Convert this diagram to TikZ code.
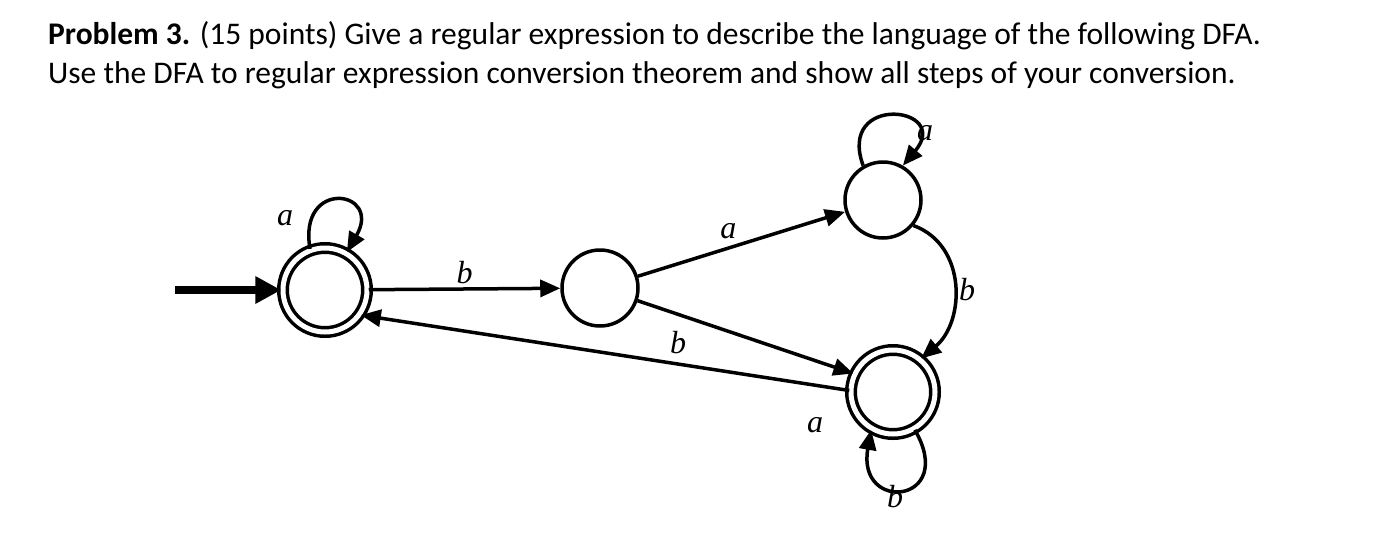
\documentclass[tikz,border=0pt]{standalone}
\usepackage{fontspec}
\setmainfont{Carlito}
\newfontfamily\lblfont{Liberation Serif}
\usetikzlibrary{arrows.meta}
\begin{document}
\begin{tikzpicture}[x=1pt,y=-1pt,
  st/.style={circle,draw,line width=3.5pt,minimum size=76pt,inner sep=0pt},
  acc/.style={st,double,double distance=5pt,minimum size=84pt},
  ed/.style={line width=3.5pt,-{Triangle[length=20pt,width=17pt]}},
  lb/.style={font=\lblfont\itshape\fontsize{32}{32}\selectfont}]
\useasboundingbox (0,0) rectangle (1387,547);
\node[anchor=west,font=\fontsize{31.5}{39}\selectfont,align=left,inner sep=0pt] (title) at (48,55)
 {\textbf{Problem 3.} (15 points) Give a regular expression to describe the language of the following DFA.\\
 Use the DFA to regular expression conversion theorem and show all steps of your conversion.};
\node[acc] (q0) at (325,290) {};
\node[st] (q1) at (600,288) {};
\node[st] (q2) at (883,200) {};
\node[acc] (q3) at (893,392) {};
\coordinate (s) at (175,290);
\draw[line width=8pt,-{Triangle[length=26pt,width=26pt]}] (s) -- (q0);
\draw[ed] (q0.110) to[out=100,in=60,looseness=5] (q0.60);
\node[lb] (la0) at (285,218) {a};
\draw[ed] (q2.120) to[out=110,in=50,looseness=5] (q2.60);
\node[lb] (la2) at (925,133) {a};
\draw[ed] (q3.-60) to[out=-60,in=-100,looseness=5] (q3.-120);
\node[lb] (lb3) at (895,497) {b};
\draw[ed] (q0) -- node[lb,above] {b} (q1);
\draw[ed] (q1) -- node[lb,above left] {a} (q2);
\draw[ed] (q1) -- (q3.155);
\node[lb] (lb1) at (678,343) {b};
\draw[ed] (q3.178) -- (q0.-35);
\node[lb] (la3) at (815,425) {a};
\draw[ed] (q2.-40) to[out=-20,in=40,looseness=1.1] (q3.50);
\node[lb] (lb2) at (967,290) {b};
\end{tikzpicture}
\end{document}
